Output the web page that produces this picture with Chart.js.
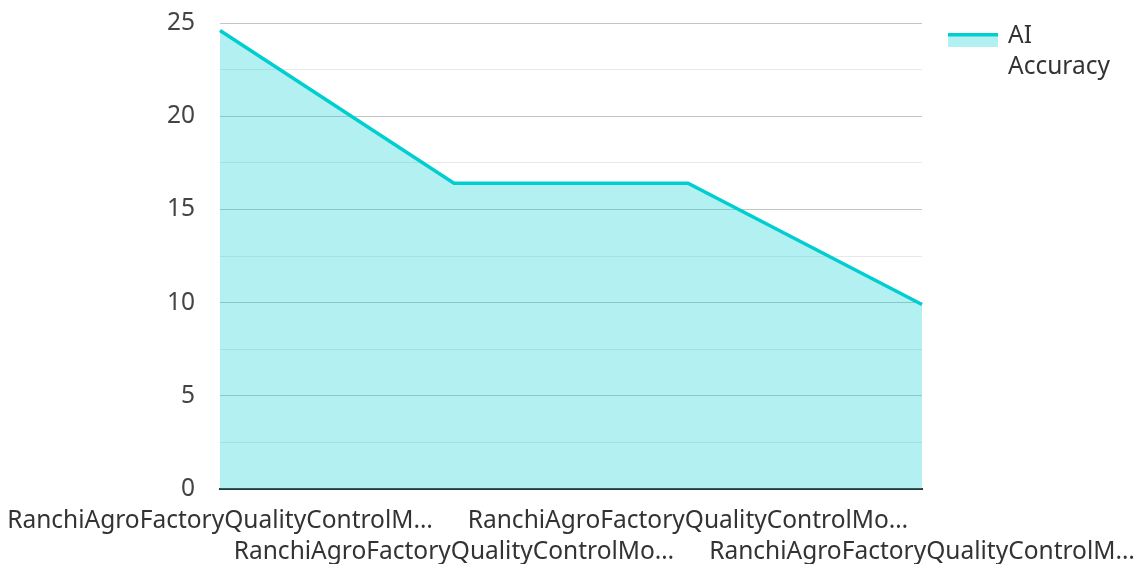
<!DOCTYPE html>
<html>
<head>
<meta charset="utf-8">
<script src="https://cdn.jsdelivr.net/npm/chart.js@4"></script>
<style>
  html, body { margin: 0; padding: 0; background: #fff; }
  #wrap { width: 1142px; height: 564px; }
</style>
</head>
<body>
<div id="wrap"><canvas id="chart" width="1142" height="564"></canvas></div>
<script>
const categories = [
  "RanchiAgroFactoryQualityControlM…",
  "RanchiAgroFactoryQualityControlMo…",
  "RanchiAgroFactoryQualityControlMo…",
  "RanchiAgroFactoryQualityControlM…"
];
const accuracy = [24.6, 16.4, 16.4, 9.9];
const seriesName = ["AI", "Accuracy"];

const LINE = "#00CED1";
const FILL = "rgba(0, 206, 209, 0.3)";

// legend drawn by hand so the name can wrap onto two lines
const sideLegend = {
  id: "sideLegend",
  afterDraw(chart) {
    const ctx = chart.ctx;
    const x = 948;
    const y = 33;
    ctx.save();
    ctx.fillStyle = FILL;
    ctx.fillRect(x, y, 50, 14);
    ctx.fillStyle = LINE;
    ctx.fillRect(x, y, 50, 3.5);
    ctx.fillStyle = "#333";
    ctx.font = "24.5px 'Noto Sans'";
    ctx.textBaseline = "middle";
    seriesName.forEach((t, i) => ctx.fillText(t, x + 60, y + 3 + i * 31));
    ctx.restore();
  }
};

new Chart(document.getElementById("chart"), {
  type: "line",
  data: {
    labels: categories,
    datasets: [{
      label: seriesName.join(" "),
      data: accuracy,
      borderColor: LINE,
      backgroundColor: FILL,
      borderWidth: 3.5,
      fill: "origin",
      pointRadius: 0,
      tension: 0
    }]
  },
  options: {
    responsive: false,
    animation: false,
    layout: { padding: { left: 0, right: 220, top: 23, bottom: 0 } },
    plugins: { legend: { display: false }, tooltip: { enabled: false } },
    scales: {
      x: {
        offset: false,
        afterFit(s) { s.height = 75; s.paddingLeft = 0; s.paddingRight = 0; },
        grid: { display: false, drawTicks: false },
        border: { color: "#333", width: 2 },
        ticks: {
          autoSkip: false,
          maxRotation: 0,
          padding: 17,
          color: "#333",
          font: { family: "'Noto Sans'", size: 24.5, lineHeight: 1.25 },
          callback(v, i) { return i % 2 ? ["", categories[i]] : categories[i]; }
        }
      },
      y: {
        min: 0,
        max: 25,
        afterFit(s) { s.width = 220; s.paddingTop = 0; s.paddingBottom = 0; },
        grid: {
          drawTicks: false,
          color: c => (c.tick && c.tick.value % 5 === 0 ? "#c4c4c4" : "#e8e8e8")
        },
        border: { display: false },
        ticks: {
          stepSize: 2.5,
          padding: 25,
          color: "#444",
          font: { family: "'Noto Sans'", size: 24.5 },
          callback(v) { return v % 5 === 0 ? v : ""; }
        }
      }
    }
  },
  plugins: [sideLegend]
});
</script>
</body>
</html>
